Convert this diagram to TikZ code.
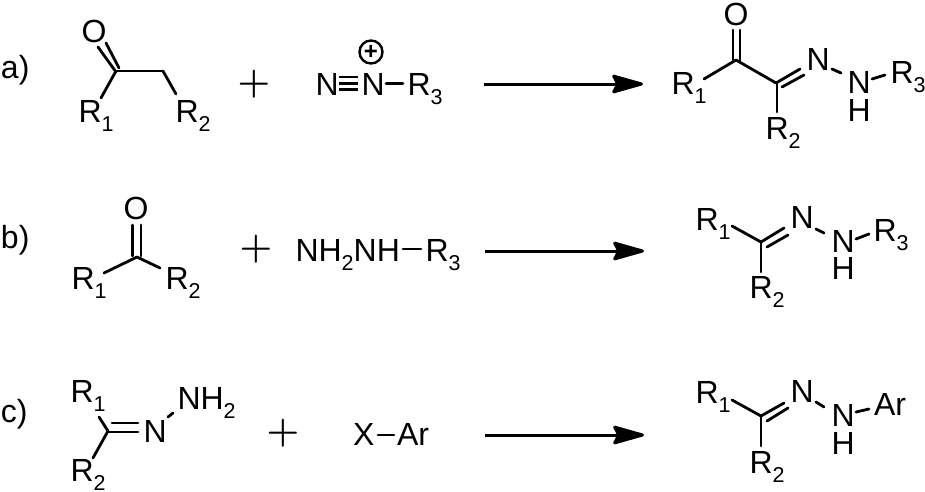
\documentclass[tikz,border=0pt]{standalone}
\usepackage{graphicx}
\usepackage{fontspec}
\setmainfont{Liberation Sans}
\usetikzlibrary{arrows.meta}
\newcommand{\chemsub}[1]{\raisebox{-0.3em}{\fontsize{21.5}{21.5}\selectfont #1}}
\newcommand{\bnd}[3]{\coordinate (#1s) at (#2); \coordinate (#1e) at (#3); \draw[bond] (#1s) -- (#1e);}
\newcommand{\tbnd}[3]{\coordinate (#1s) at (#2); \coordinate (#1e) at (#3); \draw[thinbond] (#1s) -- (#1e);}
\newcommand{\bigplus}{\scalebox{1.5}{\fontsize{24.88}{25}\selectfont\boldmath$+$}}
\tikzset{
  x=1pt,y=-1pt,
  atom/.style={anchor=base west,inner sep=0pt,outer sep=0pt,font=\fontsize{32}{32}\selectfont},
  bond/.style={line width=2.8pt,line cap=round,line join=round,black},
  thinbond/.style={line width=2.2pt,line cap=butt,black},
  rxn/.style={line width=3pt,-{Stealth[length=36pt,width=20pt,inset=5pt,round]},black},
  plussign/.style={inner sep=0pt,outer sep=0pt},
  charge/.style={circle,draw,line width=2.4pt,inner sep=0pt,minimum size=23pt,font=\fontsize{24}{24}\selectfont\bfseries}
}
\begin{document}
\begin{tikzpicture}
\useasboundingbox (0,0) rectangle (925,491);
% ---------- a ----------
\node[atom] (la) at (1,78) {a)};
\node[atom] (aO) at (81.5,42) {O};
\node[atom] (aR1) at (78.5,122) {R\chemsub{1}};
\node[atom] (aR2) at (175.5,122) {R\chemsub{2}};
\coordinate (aC) at (116,71);
\coordinate (aCH) at (163,71);
\bnd{ad1}{98,47}{116,72}
\bnd{ad2}{106,43}{119,68}
\draw[bond] (aC) -- (aCH);
\bnd{ab1}{116,71}{101,98}
\coordinate (aR2e) at (176,94);
\draw[bond] (aCH) -- (aR2e);
\node[plussign] (ap) at (254,84) {\bigplus};
\node[atom] (aN1) at (315.5,95) {N};
\node[atom] (aN2) at (361.5,95) {N};
\node[atom] (aR3) at (407.5,95) {R\chemsub{3}};
\node[charge] (aq) at (371,52) {+};
\tbnd{at1}{339,77}{358,77}
\tbnd{at2}{339,83.5}{358,83.5}
\tbnd{at3}{339,89.5}{358,89.5}
\bnd{ab2}{386,83.5}{403,83.5}
\coordinate (aA1) at (484,84);
\coordinate (aA2) at (643,84);
\draw[rxn] (aA1) -- (aA2);
% product a
\node[atom] (pO) at (723.5,25) {O};
\node[atom] (pR1) at (671.5,94) {R\chemsub{1}};
\node[atom] (pR2) at (765.5,139) {R\chemsub{2}};
\node[atom] (pN) at (806.5,70) {N};
\node[atom] (pNH) at (847.5,93) {N};
\node[atom] (pH) at (847.5,121) {H};
\node[atom] (pR3) at (890.5,83) {R\chemsub{3}};
\coordinate (pC1) at (736,60);
\coordinate (pC2) at (776,83);
\bnd{pd1}{733,30}{733,61}
\bnd{pd2}{740,30}{740,61}
\bnd{pb1}{704,79}{736,60}
\draw[bond] (pC1) -- (pC2);
\bnd{pd3}{776,83}{800,69}
\bnd{pd4}{782,87}{804,75}
\bnd{pb2}{777,83}{777,112}
\bnd{pb3}{832,69}{841,73}
\bnd{pb4}{872,79}{885,75}
% ---------- b ----------
\node[atom] (lb) at (1,248) {b)};
\node[atom] (bO) at (123.5,219) {O};
\node[atom] (bR1) at (71.5,289) {R\chemsub{1}};
\node[atom] (bR2) at (165.5,289) {R\chemsub{2}};
\coordinate (bC) at (137,257);
\bnd{bd1}{132.5,225}{132.5,256}
\bnd{bd2}{141,225}{141,256}
\bnd{bb1}{137,257}{104,273}
\bnd{bb2}{137,257}{160,268}
\node[plussign] (bp) at (256,249) {\bigplus};
\node[atom] (bH) at (295.5,261) {NH\chemsub{2}NH};
\bnd{bb3}{403,249}{421,249}
\node[atom] (bR3) at (425.5,261) {R\chemsub{3}};
\coordinate (bA1) at (485,251);
\coordinate (bA2) at (644,251);
\draw[rxn] (bA1) -- (bA2);
% product b
\node[atom] (qR1) at (695.5,230) {R\chemsub{1}};
\node[atom] (qR2) at (749.5,298) {R\chemsub{2}};
\node[atom] (qN) at (790.5,228) {N};
\node[atom] (qNH) at (831.5,252) {N};
\node[atom] (qH) at (831.5,279) {H};
\node[atom] (qR3) at (873.5,241) {R\chemsub{3}};
\bnd{qb1}{732,226}{761,242}
\bnd{qd1}{761,242}{784,228}
\bnd{qd2}{767,247}{788,235}
\bnd{qb2}{761,242}{761,272}
\bnd{qb3}{816,229}{824,233}
\bnd{qb4}{856,239}{869,234}
% ---------- c ----------
\node[atom] (lc) at (1,422) {c)};
\node[atom] (cR1) at (70.5,402) {R\chemsub{1}};
\node[atom] (cR2) at (70.5,481) {R\chemsub{2}};
\node[atom] (cN) at (143.5,442) {N};
\node[atom] (cNH) at (177.5,409) {NH\chemsub{2}};
\bnd{cb1}{99,417}{108,431}
\bnd{cb2}{108,431}{93,458}
\bnd{cd1}{112,423}{138,423}
\bnd{cd2}{108,432}{138,432}
\bnd{cb3}{168,417}{173,413}
\node[plussign] (cp) at (283,433) {\bigplus};
\node[atom] (cX) at (353,445) {X};
\bnd{cb4}{378,435}{394,435}
\node[atom] (cAr) at (397,445) {Ar};
\coordinate (cA1) at (485,435);
\coordinate (cA2) at (644,435);
\draw[rxn] (cA1) -- (cA2);
% product c
\node[atom] (rR1) at (695.5,403) {R\chemsub{1}};
\node[atom] (rR2) at (749.5,473) {R\chemsub{2}};
\node[atom] (rN) at (790.5,402) {N};
\node[atom] (rNH) at (831.5,426) {N};
\node[atom] (rH) at (831.5,454) {H};
\node[atom] (rAr) at (874,415) {Ar};
\bnd{rb1}{732,400}{761,416}
\bnd{rd1}{761,416}{784,403}
\bnd{rd2}{767,421}{788,408}
\bnd{rb2}{761,416}{761,446}
\bnd{rb3}{816,402}{824,407}
\bnd{rb4}{856,412}{869,409}
\end{tikzpicture}
\end{document}
